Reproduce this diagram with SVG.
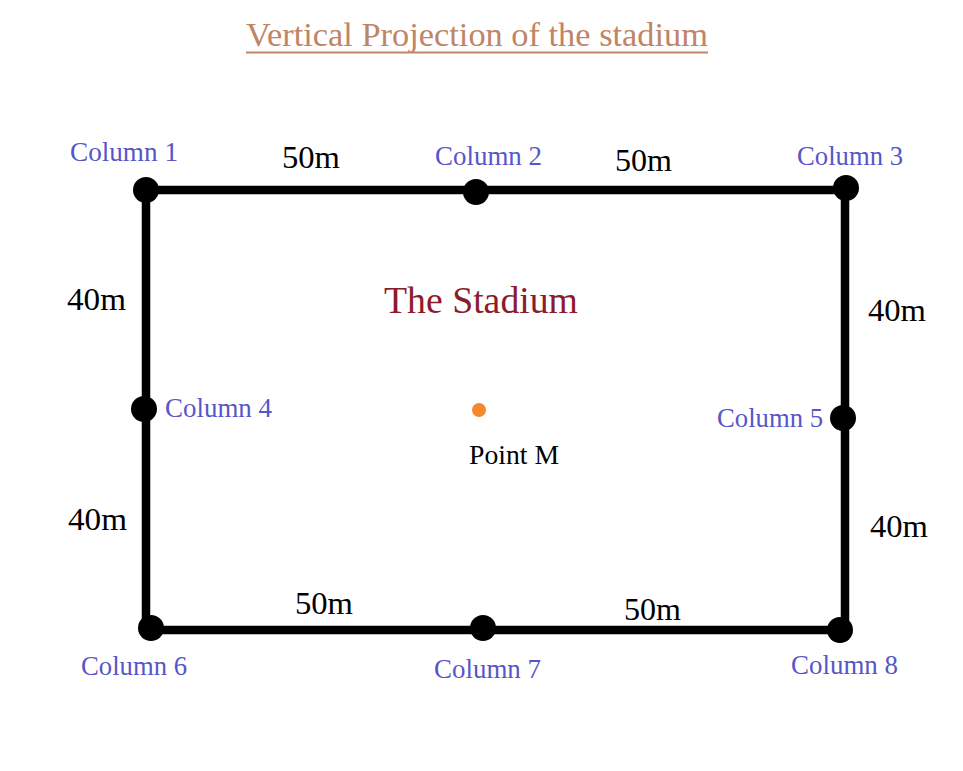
<svg xmlns="http://www.w3.org/2000/svg" width="963" height="771" viewBox="0 0 963 771">
<style>
text{font-family:"Liberation Serif","Times New Roman",serif}
.col circle{fill:#000}
.col text{fill:#5656C8;font-size:27px}
.edge{stroke:#000;stroke-width:8.5;stroke-linecap:square;fill:none}
.dist{fill:#000;font-size:32px}
</style>
<rect width="963" height="771" fill="#fff"/>
<g id="title">
<text x="246" y="46" font-size="34" fill="#C08566" textLength="462" lengthAdjust="spacingAndGlyphs">Vertical Projection of the stadium</text>
<line x1="246" y1="52.5" x2="708" y2="52.5" stroke="#C08566" stroke-width="2"/>
</g>
<g id="connectors">
<line class="edge" x1="146" y1="190" x2="476" y2="190"/>
<line class="edge" x1="476" y1="190" x2="845" y2="190"/>
<line class="edge" x1="845" y1="190" x2="845" y2="418"/>
<line class="edge" x1="845" y1="418" x2="845" y2="630"/>
<line class="edge" x1="146" y1="190" x2="146" y2="409"/>
<line class="edge" x1="146" y1="409" x2="146" y2="630"/>
<line class="edge" x1="146" y1="630" x2="483" y2="630"/>
<line class="edge" x1="483" y1="630" x2="845" y2="630"/>
<text class="dist" x="282" y="168" textLength="58" lengthAdjust="spacingAndGlyphs">50m</text>
<text class="dist" x="615" y="171" textLength="57" lengthAdjust="spacingAndGlyphs">50m</text>
<text class="dist" x="67" y="310" textLength="59" lengthAdjust="spacingAndGlyphs">40m</text>
<text class="dist" x="868" y="321" textLength="58" lengthAdjust="spacingAndGlyphs">40m</text>
<text class="dist" x="68" y="530" textLength="59" lengthAdjust="spacingAndGlyphs">40m</text>
<text class="dist" x="870" y="537" textLength="58" lengthAdjust="spacingAndGlyphs">40m</text>
<text class="dist" x="295" y="614" textLength="58" lengthAdjust="spacingAndGlyphs">50m</text>
<text class="dist" x="624" y="620" textLength="57" lengthAdjust="spacingAndGlyphs">50m</text>
</g>
<g id="column1" class="col"><circle cx="146" cy="190" r="13"/><text x="70" y="161" textLength="108" lengthAdjust="spacingAndGlyphs">Column 1</text></g>
<g id="column2" class="col"><circle cx="476" cy="192" r="13"/><text x="435" y="165" textLength="107" lengthAdjust="spacingAndGlyphs">Column 2</text></g>
<g id="column3" class="col"><circle cx="846" cy="188" r="13"/><text x="797" y="165" textLength="106" lengthAdjust="spacingAndGlyphs">Column 3</text></g>
<g id="column4" class="col"><circle cx="144" cy="409" r="13"/><text x="165" y="417" textLength="107" lengthAdjust="spacingAndGlyphs">Column 4</text></g>
<g id="column5" class="col"><circle cx="843" cy="418" r="13"/><text x="717" y="427" textLength="106" lengthAdjust="spacingAndGlyphs">Column 5</text></g>
<g id="column6" class="col"><circle cx="151" cy="628" r="13"/><text x="81" y="675" textLength="106" lengthAdjust="spacingAndGlyphs">Column 6</text></g>
<g id="column7" class="col"><circle cx="483" cy="628" r="13"/><text x="434" y="678" textLength="107" lengthAdjust="spacingAndGlyphs">Column 7</text></g>
<g id="column8" class="col"><circle cx="840" cy="630" r="13"/><text x="791" y="674" textLength="107" lengthAdjust="spacingAndGlyphs">Column 8</text></g>
<g id="stadium"><text x="384" y="313" font-size="38" fill="#8B1C2C" textLength="194" lengthAdjust="spacingAndGlyphs">The Stadium</text></g>
<g id="pointM"><circle cx="479" cy="410" r="7" fill="#F5882F"/><text x="469" y="464" font-size="28" fill="#000" textLength="90" lengthAdjust="spacingAndGlyphs">Point M</text></g>
</svg>
